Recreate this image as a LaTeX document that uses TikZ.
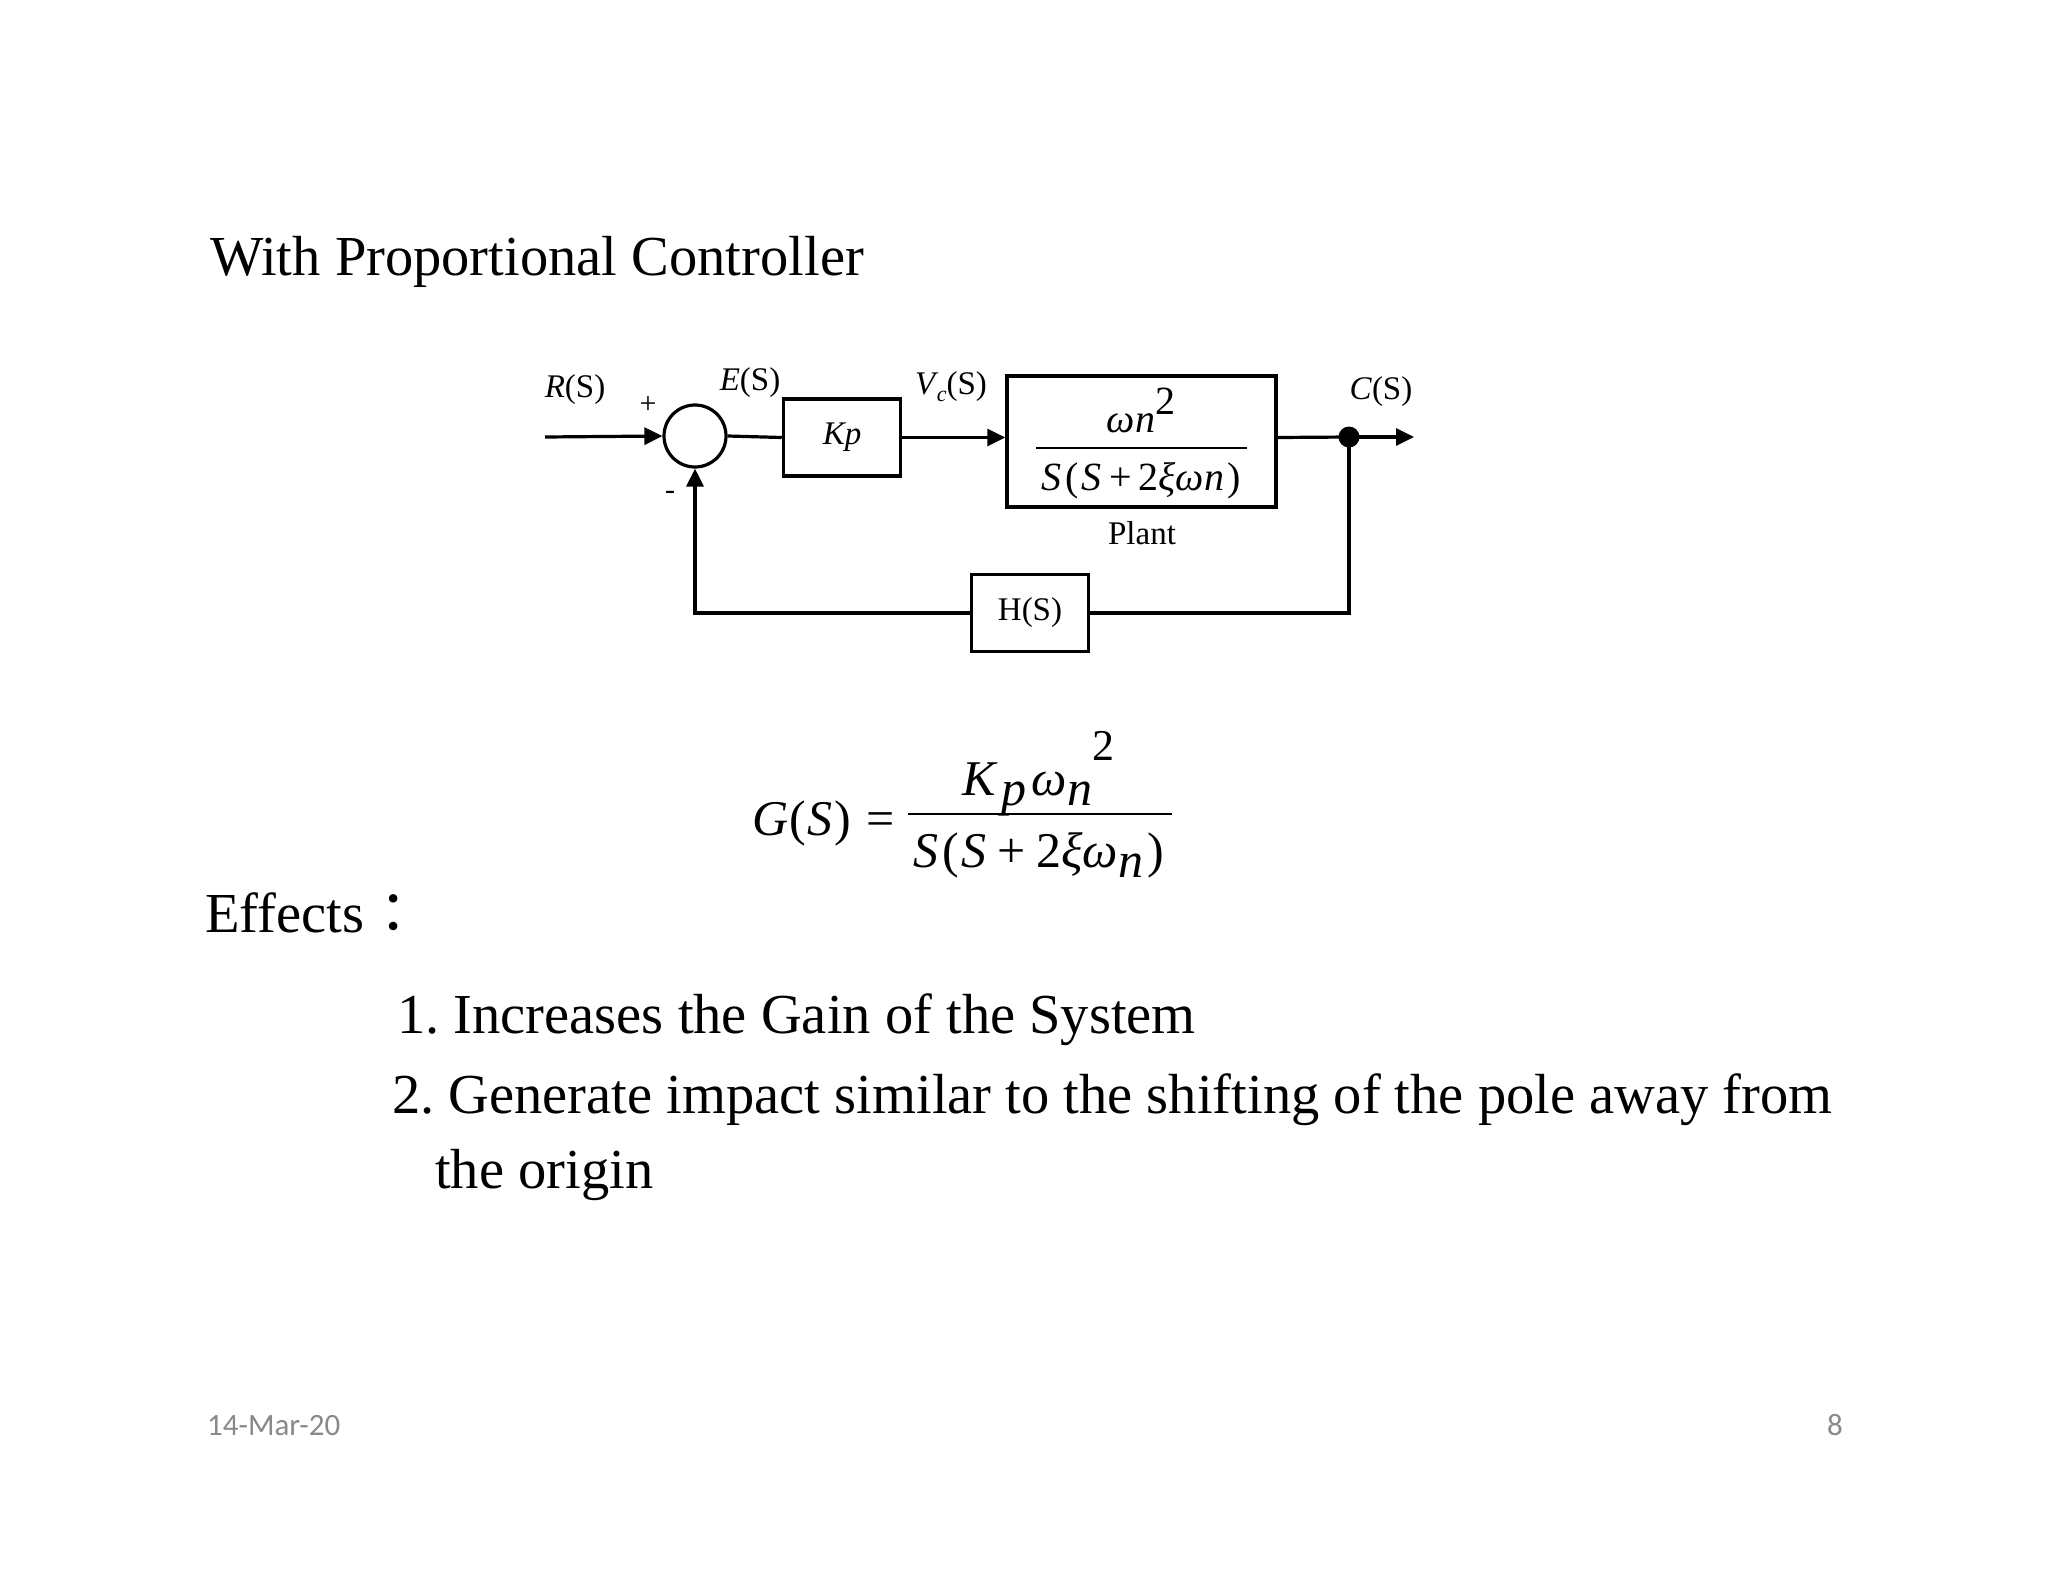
\documentclass[tikz,border=0pt]{standalone}
\usepackage{fontspec}
\setmainfont{Liberation Serif}
\newfontfamily\cjkfont{Noto Sans CJK SC}
\newfontfamily\footfont{Carlito}
\usetikzlibrary{arrows.meta}
\definecolor{footgray}{RGB}{137,137,137}
\newcommand{\fsz}[1]{\fontsize{#1}{#1}\selectfont}
\frenchspacing
\begin{document}
\begin{tikzpicture}[x=1pt,y=-1pt,
  wire/.style={line width=3.2pt},
  arr/.style={wire,-{Triangle[length=18pt,width=17pt]}},
  blk/.style={draw,line width=3.5pt,inner sep=0},
  lbl/.style={inner sep=0,font=\fsz{33}},
  body/.style={inner sep=0,anchor=base west,font=\frenchspacing\fsz{56.5}},
  math/.style={inner sep=0,anchor=base west},
  foot/.style={inner sep=0,font=\footfont\fsz{31},text=footgray}]
\useasboundingbox (0,0) rectangle (2048,1582);
\fill[white] (0,0) rectangle (2048,1582);

% title
\node[body] (title) at (210,275) {With Proportional Controller};

% block diagram
\node[draw,circle,line width=3.2pt,minimum size=62pt,inner sep=0] (sum) at (695,436) {};
\node[blk,minimum width=117pt,minimum height=77pt] (kp) at (842,437.5) {\fsz{33}\textit{Kp}};
\node[blk,minimum width=269pt,minimum height=131pt] (plant) at (1141.5,441.5) {};
\node[blk,minimum width=117pt,minimum height=77pt] (hs) at (1030,613) {\fsz{33}H(S)};
\node[circle,fill,inner sep=0,minimum size=21pt] (dot) at (1349,437) {};
\coordinate (rin) at (545,437);
\coordinate (cout) at (1414,437);

% plant transfer function
\node[math,anchor=base] (pnum) at (1141,432) {\fsz{40}\textit{ωn}\raisebox{0.45em}{2}};
\draw[line width=1.8pt] (1036,448) coordinate (pl1) -- (1247,448) coordinate (pl2);
\node[math,anchor=base] (pden) at (1141,490) {\fsz{40}\textit{S}\kern0.1em(\kern0.08em\textit{S}\kern0.18em+\kern0.18em2\textit{ξωn}\kern0.08em)};
\node[lbl] (plantlbl) at (1142,533) {Plant};

% connectors
\draw[arr] (rin) -- (sum.west);
\draw[wire] (sum.east) -- (kp.west);
\draw[arr] (kp.east) -- (kp.east -| plant.west);
\draw[wire] (kp.east -| plant.east) -- (dot.center);
\draw[arr] (dot.center) -- (cout);
\draw[wire] (dot.center) |- (hs.east);
\draw[arr] (hs.west) -| (sum.south);

% signal labels
\node[lbl] (rs) at (575,390) {\textit{R}(S)};
\node[lbl] (es) at (750,383) {\textit{E}(S)};
\node[lbl] (vc) at (951,387) {\textit{V}\kern-0.05em\raisebox{-0.2em}{\fsz{22}\textit{c}}(S)};
\node[lbl] (cs) at (1381,392) {\textit{C}(S)};
\node[lbl,font=\fsz{30}] (plus) at (648,405) {+};
\node[lbl,font=\fsz{30}] (minus) at (670,495) {-};

% G(S) formula
\node[math] (glhs) at (752,835) {\fsz{50}\textit{G}\kern0.03em(\kern0.03em\textit{S}\kern0.03em)\kern0.3em=};
\draw[line width=2pt] (908,814) coordinate (gl1) -- (1172,814) coordinate (gl2);
\node[math] (gnum) at (962,795) {\fsz{50}\textit{K}\kern0.08em\raisebox{-0.2em}{\textit{p}}\kern0.1em\textit{ω}\raisebox{-0.2em}{\textit{n}}\raisebox{0.7em}{\fsz{44}2}};
\node[math] (gden) at (913,867) {\fsz{50}\textit{S}\kern0.08em(\kern0.05em\textit{S}\kern0.22em+\kern0.22em2\textit{ξω}\raisebox{-0.2em}{\textit{n}}\kern0.08em)};

% effects text
\node[body] (eff) at (205,932) {Effects};
\node[inner sep=0,font=\cjkfont\fsz{56.5}] (colon) at (408,913) {：};
\node[body] (item1) at (397,1033) {1. Increases the Gain of the System};
\node[body] (item2) at (392,1113) {2. Generate impact similar to the shifting of the pole away from};
\node[body] (item2b) at (435,1188) {the origin};

% footer
\node[foot,anchor=base west] (date) at (207,1435) {14-Mar-20};
\node[foot,anchor=base east] (page) at (1843,1435) {8};
\end{tikzpicture}
\end{document}
